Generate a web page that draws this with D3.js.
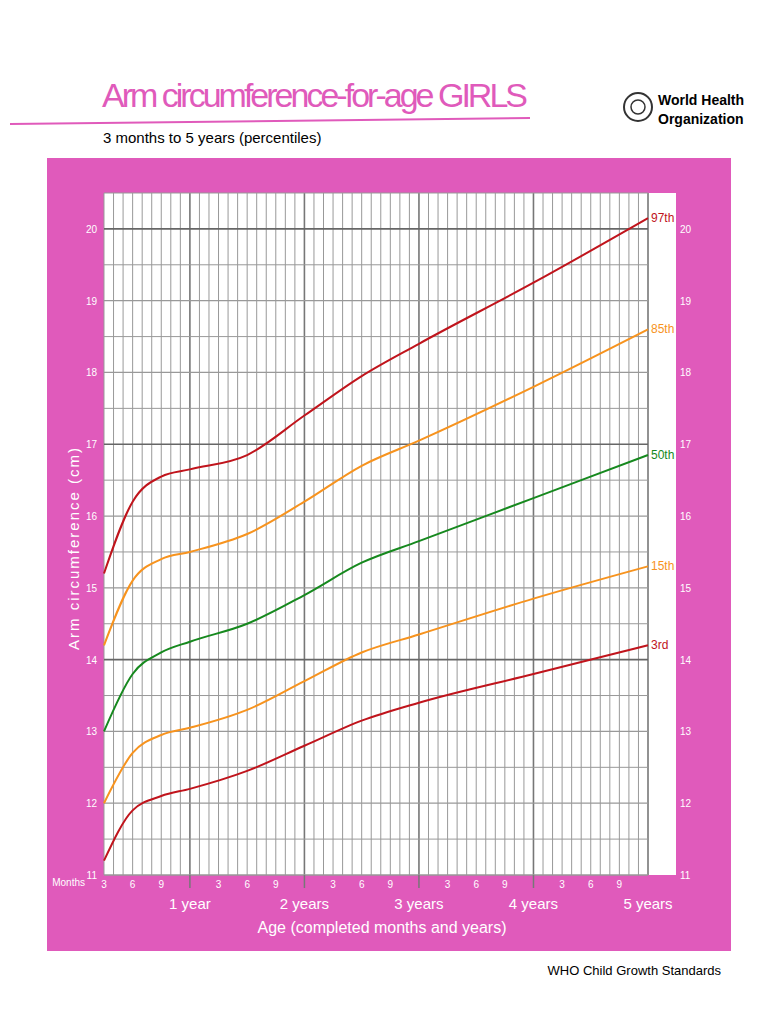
<!DOCTYPE html>
<html><head><meta charset="utf-8">
<script src="https://cdn.jsdelivr.net/npm/d3@7"></script>
<style>body{margin:0;background:#fff}text{font-family:"Liberation Sans Narrow","Liberation Sans",Arial,sans-serif}</style>
</head><body><svg id="c" width="768" height="1024"></svg>
<script>
// months of age where curves are read
var months = [3, 6, 9, 12, 18, 24, 30, 36, 48, 60];
var p97 = [15.2, 16.2, 16.55, 16.65, 16.85, 17.4, 17.95, 18.4, 19.25, 20.15];
var p85 = [14.2, 15.1, 15.4, 15.5, 15.75, 16.2, 16.7, 17.05, 17.8, 18.6];
var p50 = [13.0, 13.8, 14.1, 14.25, 14.5, 14.9, 15.35, 15.65, 16.25, 16.85];
var p15 = [12.0, 12.7, 12.95, 13.05, 13.3, 13.7, 14.1, 14.35, 14.85, 15.3];
var p3 = [11.2, 11.9, 12.1, 12.2, 12.45, 12.8, 13.15, 13.4, 13.8, 14.2];
var curveNames = ["97th", "85th", "50th", "15th", "3rd"];
var curveColors = ["#c0141c", "#f7931e", "#16891e", "#f7931e", "#c0141c"];
var yearLabels = ["1 year", "2 years", "3 years", "4 years", "5 years"];
var yTicks = [11, 12, 13, 14, 15, 16, 17, 18, 19, 20];

var svg = d3.select("#c");
var pink = "#e05abb";
var x = d3.scaleLinear().domain([3, 60]).range([104, 648]);
var y = d3.scaleLinear().domain([11, 20.5]).range([875, 193]);

// header
svg.append("text").attr("x", 102).attr("y", 107).attr("fill", pink).attr("font-size", 34)
  .attr("textLength", 426).attr("lengthAdjust", "spacing").text("Arm circumference-for-age  GIRLS");
svg.append("line").attr("x1", 10).attr("x2", 530).attr("y1", 124).attr("y2", 118)
  .attr("stroke", pink).attr("stroke-width", 2);
svg.append("text").attr("x", 103).attr("y", 143).attr("font-size", 15).text("3 months to 5 years (percentiles)");
svg.append("text").attr("x", 658).attr("y", 105).attr("font-size", 14).attr("font-weight", "bold").text("World Health");
svg.append("text").attr("x", 658).attr("y", 124).attr("font-size", 14).attr("font-weight", "bold").text("Organization");
svg.append("circle").attr("cx", 638).attr("cy", 107).attr("r", 14).attr("fill", "none").attr("stroke", "#333").attr("stroke-width", 2);
svg.append("circle").attr("cx", 638).attr("cy", 107).attr("r", 7).attr("fill", "none").attr("stroke", "#333").attr("stroke-width", 1.5);

// pink panel and white plot
svg.append("rect").attr("x", 47).attr("y", 158).attr("width", 684).attr("height", 793).attr("fill", pink);
svg.append("rect").attr("x", x(3)).attr("y", y(20.5)).attr("width", 676 - x(3)).attr("height", y(11) - y(20.5)).attr("fill", "#fff");

// vertical grid
d3.range(3, 61).forEach(function(m) {
  svg.append("line").attr("x1", x(m)).attr("x2", x(m)).attr("y1", y(20.5)).attr("y2", y(11))
    .attr("stroke", m % 12 === 0 ? "#777" : "#999").attr("stroke-width", m % 12 === 0 ? 1.6 : 1);
});
// horizontal grid
d3.range(11, 20.51, 0.5).forEach(function(v) {
  var major = v === 14 || v === 17 || v === 20;
  svg.append("line").attr("x1", x(3)).attr("x2", x(60)).attr("y1", y(v)).attr("y2", y(v))
    .attr("stroke", major ? "#666" : "#999").attr("stroke-width", major ? 1.6 : (v % 1 === 0 ? 1.3 : 1));
});

// axes labels
svg.selectAll(".yl").data(yTicks).enter().append("text").attr("x", 97).attr("y", function(d) { return y(d) + 4; })
  .attr("text-anchor", "end").attr("fill", "#fff").attr("font-size", 10).text(function(d) { return d; });
svg.selectAll(".yr").data(yTicks).enter().append("text").attr("x", 680).attr("y", function(d) { return y(d) + 4; })
  .attr("fill", "#fff").attr("font-size", 10).text(function(d) { return d; });
svg.append("text").attr("x", 85).attr("y", 886).attr("text-anchor", "end").attr("fill", "#fff").attr("font-size", 10).text("Months");
d3.range(3, 60, 3).filter(function(m) { return m % 12 !== 0; }).forEach(function(m) {
  svg.append("text").attr("x", x(m)).attr("y", 888).attr("text-anchor", "middle").attr("fill", "#fff").attr("font-size", 10).text(m % 12);
});
[12, 24, 36, 48].forEach(function(m) {
  svg.append("line").attr("x1", x(m)).attr("x2", x(m)).attr("y1", 875).attr("y2", 888).attr("stroke", "#777").attr("stroke-width", 1.5);
});
yearLabels.forEach(function(t, i) {
  svg.append("text").attr("x", x(12 * (i + 1))).attr("y", 909).attr("text-anchor", "middle").attr("fill", "#fff").attr("font-size", 15).text(t);
});
svg.append("text").attr("x", 382).attr("y", 933).attr("text-anchor", "middle").attr("fill", "#fff").attr("font-size", 16).text("Age (completed months and years)");
svg.append("text").attr("transform", "translate(79,548) rotate(-90)").attr("text-anchor", "middle").attr("fill", "#fff")
  .attr("font-family", "Liberation Sans").attr("font-size", 15).attr("letter-spacing", 2).text("Arm circumference (cm)");

// curves
var line = d3.line().x(function(d) { return x(d[0]); }).y(function(d) { return y(d[1]); }).curve(d3.curveMonotoneX);
[p97, p85, p50, p15, p3].forEach(function(s, i) {
  var pts = months.map(function(m, j) { return [m, s[j]]; });
  svg.append("path").attr("d", line(pts)).attr("fill", "none").attr("stroke", curveColors[i]).attr("stroke-width", 2);
  svg.append("text").attr("x", 651).attr("y", y(s[s.length - 1]) + 4).attr("fill", curveColors[i]).attr("font-size", 12).text(curveNames[i]);
});

svg.append("text").attr("x", 721).attr("y", 975).attr("text-anchor", "end").attr("font-size", 13).text("WHO Child Growth Standards");
</script></body></html>
